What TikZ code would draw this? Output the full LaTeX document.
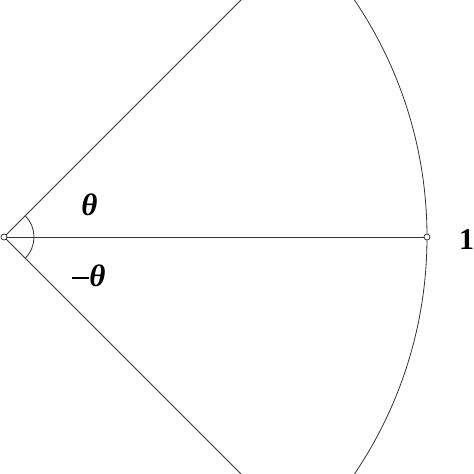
\documentclass[tikz,border=0pt]{standalone}
\usepackage{fontspec}
\setmainfont{Liberation Serif}
\usetikzlibrary{calc}
\begin{document}
\begin{tikzpicture}[x=1pt,y=-1pt,
  edge/.style={line width=0.8pt,draw=black!80},
  dot/.style={circle,draw=black!85,fill=white,line width=0.7pt,inner sep=0pt,minimum size=6pt},
  lab/.style={inner sep=0pt,font=\fontsize{31}{34}\selectfont\bfseries\itshape}]
\useasboundingbox (0,0) rectangle (474,474);
\clip (0,0) rectangle (474,474);
\coordinate (O) at (4,237);
\coordinate (A) at (404,-163);
\coordinate (B) at (404,637);
\draw[edge] (O) -- (A);
\draw[edge] (O) -- (B);
\draw[edge] (O) circle[radius=423];
\draw[edge] (O) -- (427,237);
\draw[edge] ($(O)+(21.2,21.2)$) arc[start angle=45,end angle=-45,radius=30];
\node[dot] (o) at (O) {};
\node[dot] (p) at (427,237) {};
\node[lab] (t) at (89.5,204.5) {θ};
\node[lab] (mt) at (89,276) {\rule[0.24em]{0.55em}{0.075em}θ};
\node[lab,font=\fontsize{30}{34}\selectfont\bfseries] (one) at (466.5,240) {1};
\end{tikzpicture}
\end{document}
